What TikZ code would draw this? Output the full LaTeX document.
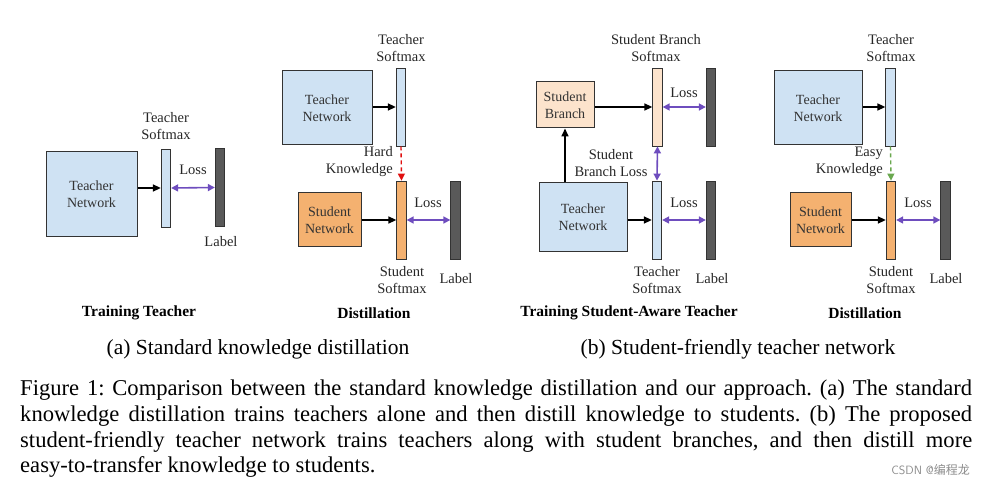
\documentclass[tikz,border=0pt]{standalone}
\usepackage{fontspec}
\setmainfont{Liberation Serif}
\newfontfamily\cjk{Noto Sans CJK SC}
\usetikzlibrary{arrows.meta}
\definecolor{lblue}{HTML}{CFE2F3}
\definecolor{orng}{HTML}{F4B170}
\definecolor{peach}{HTML}{FCE3CC}
\definecolor{dgray}{HTML}{595959}
\definecolor{purp}{HTML}{6E4DBE}
\definecolor{kred}{HTML}{E01010}
\definecolor{kgreen}{HTML}{6AA84F}
\begin{document}
\begin{tikzpicture}[x=1pt,y=-1pt,
  box/.style={draw=black!80,line width=1pt,inner sep=0pt,font=\fontsize{14}{17}\selectfont,align=center,text=black!80},
  bar/.style={draw=black!80,line width=0.8pt,inner sep=0pt,minimum width=9.5pt,minimum height=78pt},
  lbl/.style={font=\fontsize{14.5}{17}\selectfont,align=center,text=black!85,inner sep=0pt},
  ttl/.style={font=\bfseries\fontsize{15.5}{18}\selectfont,inner sep=0pt},
  fwd/.style={-{Triangle[length=8pt,width=7pt]},line width=1.6pt},
  loss/.style={{Triangle[length=7pt,width=7pt]}-{Triangle[length=7pt,width=7pt]},line width=1.6pt,purp},
  know/.style={-{Triangle[length=7pt,width=7pt]},line width=1.4pt,dash pattern=on 4pt off 3pt}]
\useasboundingbox (0,0) rectangle (986,486);
% ---------- (a) left
\node[box,fill=lblue,minimum width=91pt,minimum height=85pt] (tn1) at (91.5,194.5) {Teacher\\Network};
\node[bar,fill=lblue] (ts1) at (166,188) {};
\node[bar,fill=dgray] (lb1) at (220,187.5) {};
\node[lbl] (tst1) at (166,126) {Teacher\\Softmax};
\node[lbl] (ls1) at (193,170) {Loss};
\node[lbl] (lbt1) at (221,242) {Label};
\draw[fwd] (tn1.east|-ts1) -- (ts1.west);
\draw[loss] (ts1.east) -- (lb1.west);
\node[ttl] (t1) at (139,313) {Training Teacher};
% ---------- (a) right
\node[box,fill=lblue,minimum width=90pt,minimum height=74pt] (tn2) at (327,108) {Teacher\\Network};
\node[bar,fill=lblue] (ts2) at (401,107) {};
\node[lbl] (tst2) at (401,48) {Teacher\\Softmax};
\node[box,fill=orng,minimum width=63pt,minimum height=54pt] (sn2) at (329.5,220) {Student\\Network};
\node[bar,fill=orng] (ss2) at (401.5,220) {};
\node[bar,fill=dgray] (lb2) at (455.5,220) {};
\node[lbl] (sst2) at (402,280) {Student\\Softmax};
\node[lbl] (lbt2) at (456,279) {Label};
\node[lbl] (ls2) at (428,203) {Loss};
\node[lbl,align=right,anchor=east] (hk) at (393,162) {Hard\\Knowledge};
\draw[fwd] (tn2.east|-ts2) -- (ts2.west);
\draw[fwd] (sn2.east|-ss2) -- (ss2.west);
\draw[loss] (ss2.east) -- (lb2.west);
\draw[know,kred] (ts2.south) -- (ss2.north);
\node[ttl] (t2) at (374,313) {Distillation};
% ---------- (b) left
\node[box,fill=peach,minimum width=58pt,minimum height=46pt] (sb3) at (565,105) {Student\\Branch};
\node[bar,fill=peach] (sbs3) at (657.5,107) {};
\node[bar,fill=dgray] (lb3a) at (711,107) {};
\node[lbl] (sbst3) at (656,48) {Student Branch\\Softmax};
\node[lbl] (ls3a) at (684,93) {Loss};
\node[box,fill=lblue,minimum width=88pt,minimum height=69pt] (tn3) at (583,217.5) {Teacher\\Network};
\node[bar,fill=lblue] (ts3) at (657,220) {};
\node[bar,fill=dgray] (lb3b) at (711,220) {};
\node[lbl] (tst3) at (657,280) {Teacher\\Softmax};
\node[lbl] (lbt3) at (712,279) {Label};
\node[lbl] (ls3b) at (684,203) {Loss};
\node[lbl] (sbl) at (611,163) {Student\\Branch Loss};
\draw[fwd] (sb3.east|-sbs3) -- (sbs3.west);
\draw[fwd] (tn3.north-|sb3) -- (sb3.south);
\draw[fwd] (tn3.east|-ts3) -- (ts3.west);
\draw[loss] (sbs3.east) -- (lb3a.west);
\draw[loss] (ts3.east) -- (lb3b.west);
\draw[loss] (sbs3.south) -- (ts3.north);
\node[ttl] (t3) at (629,313) {Training Student-Aware Teacher};
% ---------- (b) right
\node[box,fill=lblue,minimum width=88pt,minimum height=74pt] (tn4) at (818,108) {Teacher\\Network};
\node[bar,fill=lblue] (ts4) at (890.5,107) {};
\node[lbl] (tst4) at (891,48) {Teacher\\Softmax};
\node[box,fill=orng,minimum width=61pt,minimum height=54pt] (sn4) at (820.5,220) {Student\\Network};
\node[bar,fill=orng] (ss4) at (891,220) {};
\node[bar,fill=dgray] (lb4) at (945.5,220) {};
\node[lbl] (sst4) at (891,280) {Student\\Softmax};
\node[lbl] (lbt4) at (946,279) {Label};
\node[lbl] (ls4) at (918,203) {Loss};
\node[lbl,align=right,anchor=east] (ek) at (883,162) {Easy\\Knowledge};
\draw[fwd] (tn4.east|-ts4) -- (ts4.west);
\draw[fwd] (sn4.east|-ss4) -- (ss4.west);
\draw[loss] (ss4.east) -- (lb4.west);
\draw[know,kgreen] (ts4.south) -- (ss4.north);
\node[ttl] (t4) at (865,313) {Distillation};
% ---------- captions
\node[inner sep=0pt,font=\fontsize{21.5}{24}\selectfont] (ca) at (258,349) {(a) Standard knowledge distillation};
\node[inner sep=0pt,font=\fontsize{21.5}{24}\selectfont] (cb) at (738,349) {(b) Student-friendly teacher network};
\node[inner sep=0pt,anchor=north west,text width=952pt,align=justify,font=\fontsize{22.6}{25.7}\selectfont] (fig) at (20,380)
{\frenchspacing\hyphenpenalty=10000 Figure 1: Comparison between the standard knowledge distillation and our approach. (a) The standard\linebreak knowledge distillation trains teachers alone and then distill knowledge to students. (b) The proposed\linebreak student-friendly teacher network trains teachers along with student branches, and then distill more\linebreak easy-to-transfer knowledge to students.};
\node[inner sep=0pt,anchor=east,text=black!45,font=\fontsize{12}{14}\sffamily] (wm) at (970,470) {CSDN @{\cjk 编程龙}};
\end{tikzpicture}
\end{document}
